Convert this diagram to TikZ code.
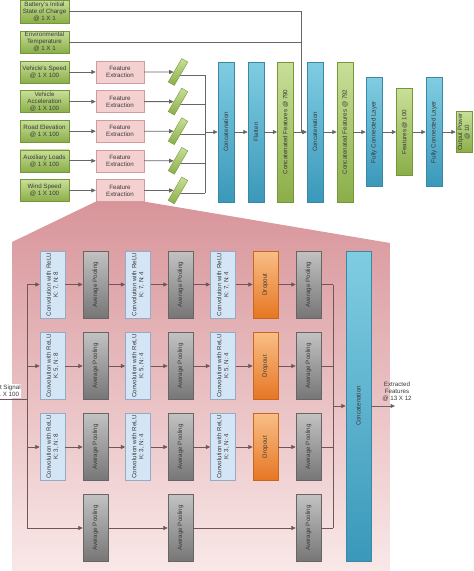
\documentclass[tikz,border=0pt]{standalone}
\usepackage{fontspec}
\setmainfont{Liberation Sans}
\usetikzlibrary{arrows.meta,backgrounds}

\definecolor{greenlt}{HTML}{C8DF98}
\definecolor{greendk}{HTML}{8AAE48}
\definecolor{greenbd}{HTML}{76963A}
\definecolor{bluelt}{HTML}{80CDE2}
\definecolor{bluedk}{HTML}{3A98BA}
\definecolor{bluebd}{HTML}{3A88A4}
\definecolor{pinkfe}{HTML}{F5D0D0}
\definecolor{pinkbd}{HTML}{D29C9C}
\definecolor{convfill}{HTML}{D4E5F6}
\definecolor{convbd}{HTML}{95AAC6}
\definecolor{graylt}{HTML}{C2C2C2}
\definecolor{graydk}{HTML}{767676}
\definecolor{graybd}{HTML}{666666}
\definecolor{orlt}{HTML}{F9BE86}
\definecolor{ordk}{HTML}{E67623}
\definecolor{orbd}{HTML}{C9661C}
\definecolor{trtop}{HTML}{D8959A}
\definecolor{trbot}{HTML}{F9E8E8}
\definecolor{linegray}{HTML}{666666}
\definecolor{linebrown}{HTML}{705656}
\definecolor{txtgray}{HTML}{3A3A3A}

\newcommand{\tinyfont}{\fontsize{6.2}{7}\selectfont}

\tikzset{
  lbl/.style={font=\tinyfont, text=txtgray, align=center, inner sep=0pt},
  inbox/.style={lbl, draw=greenbd, top color=greenlt, bottom color=greendk, minimum width=49, minimum height=22},
  febox/.style={lbl, draw=pinkbd, fill=pinkfe, minimum width=48, minimum height=22},
  slant/.style={draw=greenbd, top color=greenlt, bottom color=greendk, minimum width=27, minimum height=7, inner sep=0pt, rotate=60},
  bar/.style={lbl, rotate=90, minimum height=16},
  bluebar/.style={bar, draw=bluebd, top color=bluelt, bottom color=bluedk},
  greenbar/.style={bar, draw=greenbd, top color=greenlt, bottom color=greendk},
  convbox/.style={lbl, rotate=90, draw=convbd, fill=convfill, minimum width=67, minimum height=25},
  poolbox/.style={lbl, rotate=90, draw=graybd, top color=graylt, bottom color=graydk, minimum width=67, minimum height=25},
  dropbox/.style={lbl, rotate=90, draw=orbd, top color=orlt, bottom color=ordk, minimum width=67, minimum height=25},
  ln/.style={draw=linegray, line width=0.8pt},
  arr/.style={ln, -{Triangle[length=4.5pt,width=4pt]}},
  bln/.style={draw=linebrown, line width=0.8pt},
  barr/.style={bln, -{Triangle[length=4.5pt,width=4pt]}},
}

\begin{document}
\begin{tikzpicture}[x=1pt, y=-1pt]

	\useasboundingbox (0,0) rectangle (474,571);

	% inputs
	\node[inbox, minimum height=23] (soc) at (44.5,11.5) {Battery's Initial\\State of Charge\\@ 1 X 1};
	\node[inbox] (temp) at (44.5,42) {Environmental\\Temperature\\@ 1 X 1};
	\node[inbox] (speed) at (44.5,72) {Vehicle's Speed\\@ 1 X 100};
	\node[inbox] (accel) at (44.5,101.6) {Vehicle\\Acceleration\\@ 1 X 100};
	\node[inbox] (elev) at (44.5,131.2) {Road Elevation\\@ 1 X 100};
	\node[inbox] (aux) at (44.5,160.8) {Auxiliary Loads\\@ 1 X 100};
	\node[inbox] (wind) at (44.5,190.4) {Wind Speed\\@ 1 X 100};

	% feature extraction per signal
	\foreach \i/\src/\ry in {1/speed/72, 2/accel/101.6, 3/elev/131.2, 4/aux/160.8, 5/wind/190.4}{
		\node[febox] (fe\i) at (120,\ry) {Feature\\Extraction};
		\node[slant] (sl\i) at (178,\ry) {};
		\coordinate (ex\i) at ([yshift=-3pt]sl\i.center);
		\draw[arr] (\src) -- (fe\i);
		\draw[arr] (fe\i) -- (sl\i);
	}

	% main chain
	\node[bluebar, minimum width=140] (cat1) at (226,132) {Concatenation};
	\node[bluebar, minimum width=140] (flat) at (256,132) {Flatten};
	\node[greenbar, minimum width=140] (cf1) at (285.5,132) {Concatenated Features @ 790};
	\node[bluebar, minimum width=140] (cat2) at (315,132) {Concatenation};
	\node[greenbar, minimum width=140] (cf2) at (345,132) {Concatenated Features @ 792};
	\node[bluebar, minimum width=109] (fc1) at (374,132) {Fully Connected Layer};
	\node[greenbar, minimum width=87] (f100) at (404.5,132) {Features @ 100};
	\node[bluebar, minimum width=109] (fc2) at (434,132) {Fully Connected Layer};
	\node[greenbar, minimum width=41] (outp) at (464,132) {Output Power\\@ 10};

	\coordinate (ja) at (205,75);
	\coordinate (jz) at (205,193.4);
	\coordinate (jb) at (301,132);

	\draw[ln] (ja) -- (jz);
	\draw[arr] (ja |- cat1) -- (cat1);
	\draw[arr] (cat1) -- (flat);
	\draw[arr] (flat) -- (cf1);
	\draw[arr] (cf1) -- (cat2);
	\draw[arr] (cat2) -- (cf2);
	\draw[arr] (cf2) -- (fc1);
	\draw[arr] (fc1) -- (f100);
	\draw[arr] (f100) -- (fc2);
	\draw[arr] (fc2) -- (outp);

	\draw[ln] (soc.east) -| (jb);
	\draw[ln] (temp.east) -- (temp.east -| jb);
	\draw[arr] (jb) -- (cat2);

	% zoom on feature extraction
	\foreach \r/\k/\ry in {1/7/284.5, 2/5/366, 3/3/447}{
		\node[convbox] (c\r1) at (52.5,\ry) {Convolution with ReLU\\K: \k, N: 8};
		\node[poolbox] (p\r1) at (95.5,\ry) {Average Pooling};
		\node[convbox] (c\r2) at (138,\ry) {Convolution with ReLU\\K: \k, N: 4};
		\node[poolbox] (p\r2) at (180.5,\ry) {Average Pooling};
		\node[convbox] (c\r3) at (223,\ry) {Convolution with ReLU\\K: \k, N: 4};
		\node[dropbox] (d\r) at (265.5,\ry) {Dropout};
		\node[poolbox] (p\r3) at (308.5,\ry) {Average Pooling};
		\draw[barr] (c\r1) -- (p\r1);
		\draw[barr] (p\r1) -- (c\r2);
		\draw[barr] (c\r2) -- (p\r2);
		\draw[barr] (p\r2) -- (c\r3);
		\draw[barr] (c\r3) -- (d\r);
		\draw[barr] (d\r) -- (p\r3);
	}
	\node[poolbox] (p41) at (95.5,528) {Average Pooling};
	\node[poolbox] (p42) at (180.5,528) {Average Pooling};
	\node[poolbox] (p43) at (308.5,528) {Average Pooling};
	\draw[barr] (p41) -- (p42);
	\draw[barr] (p42) -- (p43);

	\node[bluebar, minimum width=310, minimum height=25] (catx) at (358.5,406) {Concatenation};

	\coordinate (lt) at (27,284.5);
	\coordinate (lb) at (27,528);
	\coordinate (rt) at (333,284.5);
	\coordinate (rb) at (333,528);
	\coordinate (sigin) at (-2,399);
	\coordinate (xf) at (395,406);

	\node[lbl, fill=white, inner sep=0.6pt, anchor=south east] (sig) at (21.5,398) {Input Signal\\@ 1 X 100};
	\node[lbl, anchor=south] (xlbl) at (397,402) {Extracted\\Features\\@ 13 X 12};

	\draw[bln] (sigin) -- (lt |- sigin);
	\draw[bln] (lt) -- (lb);
	\foreach \r in {1,2,3}{
		\draw[barr] (lt |- c\r1) -- (c\r1);
		\draw[bln] (p\r3) -- (rt |- p\r3);
	}
	\draw[barr] (lb) -- (p41);
	\draw[bln] (p43) -- (rb);
	\draw[bln] (rt) -- (rb);
	\draw[barr] (rt |- catx) -- (catx);
	\draw[arr] (catx) -- (xf);

	\begin{pgfonlayer}{background}
		\shade[top color=trtop, bottom color=trbot] (fe5.south west) -- (fe5.south east) -- (390,243) -- (390,571) -- (12,571) -- (12,242) -- cycle;
		\foreach \i in {1,...,5}
			\draw[ln] (ex\i) -- (ex\i -| ja);
	\end{pgfonlayer}

\end{tikzpicture}
\end{document}
